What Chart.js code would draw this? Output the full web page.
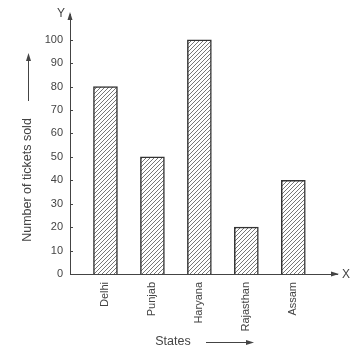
<!DOCTYPE html>
<html>
<head>
<meta charset="utf-8">
<script src="https://cdn.jsdelivr.net/npm/chart.js@4"></script>
<style>
  html, body { margin: 0; padding: 0; background: #fff; }
  #wrap { width: 362px; height: 355px; }
</style>
</head>
<body>
<div id="wrap"><canvas id="chart" width="362" height="355"></canvas></div>
<script>
/* tickets sold per state */
const states = ['Delhi', 'Punjab', 'Haryana', 'Rajasthan', 'Assam'];
const tickets = [80, 50, 100, 20, 40];
const yTicks = [0, 10, 20, 30, 40, 50, 60, 70, 80, 90, 100];

const INK = '#444';
const FONT = '"Liberation Sans", Arial, sans-serif';

function makeHatch() {
  const c = document.createElement('canvas');
  c.width = 4; c.height = 4;
  const g = c.getContext('2d');
  g.fillStyle = '#fff';
  g.fillRect(0, 0, 4, 4);
  g.strokeStyle = '#777';
  g.lineWidth = 1;
  g.beginPath();
  g.moveTo(0, 4); g.lineTo(4, 0);
  g.moveTo(-1, 1); g.lineTo(1, -1);
  g.moveTo(3, 5); g.lineTo(5, 3);
  g.stroke();
  return g.createPattern(c, 'repeat');
}

function arrowHead(ctx, x, y, dir) {
  // dir: 'up' or 'right'
  ctx.beginPath();
  if (dir === 'up') {
    ctx.moveTo(x, y); ctx.lineTo(x - 2.5, y + 8); ctx.lineTo(x + 2.5, y + 8);
  } else {
    ctx.moveTo(x, y); ctx.lineTo(x - 8, y - 2.5); ctx.lineTo(x - 8, y + 2.5);
  }
  ctx.closePath();
  ctx.fill();
}

const decorations = {
  id: 'decorations',
  afterDraw(chart) {
    const ctx = chart.ctx;
    const area = chart.chartArea;
    const y = chart.scales.y;
    ctx.save();
    ctx.strokeStyle = INK;
    ctx.fillStyle = INK;
    ctx.lineWidth = 1;

    // small inside ticks on the y axis
    ctx.beginPath();
    yTicks.forEach(v => {
      const py = Math.round(y.getPixelForValue(v)) + 0.5;
      ctx.moveTo(area.left, py); ctx.lineTo(area.left + 3, py);
    });
    ctx.stroke();

    // axis arrow heads
    arrowHead(ctx, area.left, area.top - 2, 'up');
    arrowHead(ctx, area.right + 2, area.bottom, 'right');

    ctx.font = '12px ' + FONT;
    ctx.textBaseline = 'middle';
    ctx.textAlign = 'center';
    ctx.fillText('Y', area.left - 9, area.top);
    ctx.fillText('X', area.right + 9, area.bottom + 1);

    // y title with arrow
    ctx.font = '12.5px ' + FONT;
    ctx.save();
    ctx.translate(28, 180);
    ctx.rotate(-Math.PI / 2);
    ctx.fillText('Number of tickets sold', 0, 0);
    ctx.restore();
    ctx.beginPath();
    ctx.moveTo(28.5, 101); ctx.lineTo(28.5, 58);
    ctx.stroke();
    arrowHead(ctx, 28.5, 53, 'up');

    // x title with arrow
    ctx.fillText('States', 173, 342);
    ctx.beginPath();
    ctx.moveTo(206, 342.5); ctx.lineTo(248, 342.5);
    ctx.stroke();
    arrowHead(ctx, 254, 342.5, 'right');

    ctx.restore();
  }
};

new Chart(document.getElementById('chart'), {
  type: 'bar',
  data: {
    datasets: [{
      data: tickets.map((v, i) => ({ x: i, y: v })),
      backgroundColor: makeHatch(),
      borderColor: '#333',
      borderWidth: 1.5,
      borderSkipped: 'bottom',
      barThickness: 24
    }]
  },
  options: {
    responsive: false,
    animation: false,
    layout: { padding: { top: 14, right: 25, left: 0, bottom: 0 } },
    plugins: { legend: { display: false }, tooltip: { enabled: false } },
    scales: {
      x: {
        type: 'linear',
        offset: false,
        min: -0.755,
        max: 4.93,
        afterBuildTicks: s => { s.ticks = states.map((_, i) => ({ value: i })); },
        afterFit: s => { s.height = 81; },
        grid: { display: false, drawTicks: false },
        border: { display: true, color: INK, width: 1 },
        ticks: {
          autoSkip: false,
          minRotation: 90,
          maxRotation: 90,
          padding: 8,
          color: INK,
          font: { family: FONT, size: 11 },
          callback: (v, i) => states[i]
        }
      },
      y: {
        min: 0,
        max: 111,
        afterBuildTicks: s => { s.ticks = yTicks.map(v => ({ value: v })); },
        afterFit: s => { s.width = 70; },
        grid: { display: false, drawTicks: false },
        border: { display: true, color: INK, width: 1 },
        ticks: {
          padding: 7,
          color: INK,
          font: { family: FONT, size: 11 }
        }
      }
    }
  },
  plugins: [decorations]
});
</script>
</body>
</html>
